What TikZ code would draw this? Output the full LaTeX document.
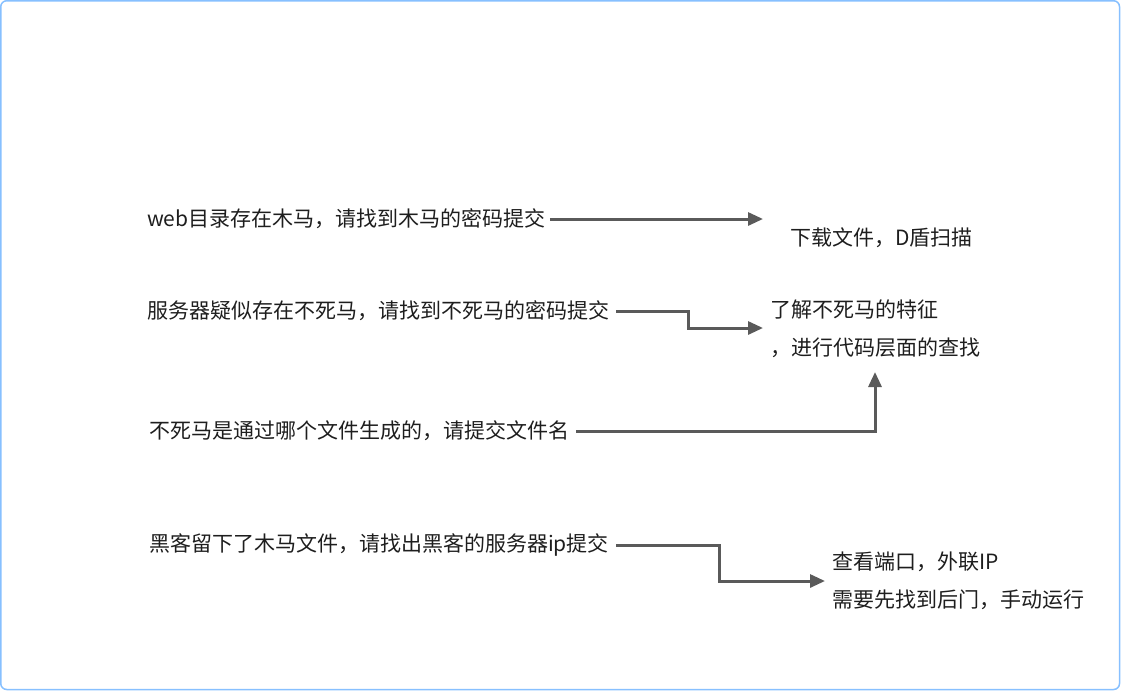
\documentclass[tikz,border=0pt]{standalone}
\usepackage{fontspec}
\setmainfont{Noto Sans CJK SC}
\usetikzlibrary{arrows.meta}
\definecolor{framecol}{RGB}{135,192,255}
\definecolor{linecol}{RGB}{90,90,90}
\definecolor{txtcol}{RGB}{30,30,30}
\begin{document}
\begin{tikzpicture}[x=1pt,y=-1pt,
  lbl/.style={anchor=west,inner sep=0pt,text=txtcol,font=\fontsize{21pt}{25pt}\selectfont},
  conn/.style={draw=linecol,line width=3pt,-{Triangle[length=15pt,width=13pt]}}]
\useasboundingbox (0,0) rectangle (1121,691);
\draw[framecol,line width=1.5pt,rounded corners=6pt] (0.75,0.75) rectangle (1119.5,689.5);
% questions
\node[lbl] (q1) at (147,219) {web目录存在木马，请找到木马的密码提交};
\node[lbl] (q2) at (147,311) {服务器疑似存在不死马，请找到不死马的密码提交};
\node[lbl] (q3) at (149,431) {不死马是通过哪个文件生成的，请提交文件名};
\node[lbl] (q4) at (149,545) {黑客留下了木马文件，请找出黑客的服务器ip提交};
% answers
\node[lbl] (a1) at (790,238) {下载文件，D盾扫描};
\node[lbl] (a2) at (770,310) {了解不死马的特征};
\node[lbl] (a2b) at (770,348) {，进行代码层面的查找};
\node[lbl] (a4) at (832,562) {查看端口，外联IP};
\node[lbl] (a4b) at (832,600) {需要先找到后门，手动运行};
% arrow ends
\coordinate (t1) at (763,219);
\coordinate (t2) at (763,328);
\coordinate (t3) at (875,372);
\coordinate (t4) at (825,581);
\draw[conn] ([xshift=4pt]q1.east) -- (t1);
\draw[conn] ([xshift=7pt]q2.east) -- (688,311) -- (688,328) -- (t2);
\draw[conn] ([xshift=7pt]q3.east) -- (875,431) -- (t3);
\draw[conn] ([xshift=7pt]q4.east) -- (719,545) -- (719,581) -- (t4);
\end{tikzpicture}
\end{document}
